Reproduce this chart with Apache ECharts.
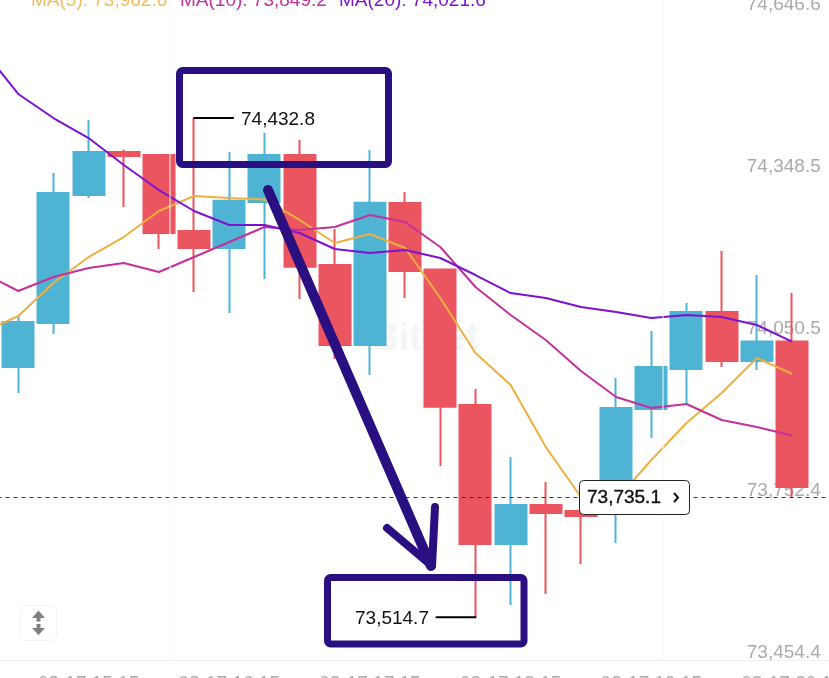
<!DOCTYPE html>
<html><head><meta charset="utf-8">
<style>html,body{margin:0;padding:0;background:#fff;overflow:hidden}#c{width:829px;height:678px}</style>
<script src="https://cdn.jsdelivr.net/npm/echarts@6/dist/echarts.min.js"></script>
</head><body><div id="c"></div>
<script>
const categories = ["08-17 14:30","08-17 14:45","08-17 15:00","08-17 15:15","08-17 15:30","08-17 15:45","08-17 16:00","08-17 16:15","08-17 16:30","08-17 16:45","08-17 17:00","08-17 17:15","08-17 17:30","08-17 17:45","08-17 18:00","08-17 18:15","08-17 18:30","08-17 18:45","08-17 19:00","08-17 19:15","08-17 19:30","08-17 19:45","08-17 20:00","08-17 20:15","08-17 20:30"];
const noCandle = ['-','-','-','-'];
// [open, close, low, high]
const candles = [noCandle,
[73975.0,74057.7,73927.2,74068.7],[74055.9,74294.9,74035.6,74331.7],[74291.2,74370.3,74285.7,74429.1],
[74370.3,74362.9,74269.2,74374.9],[74364.8,74221.4,74191.9,74366.6],[74225.0,74193.8,74112.9,74432.8],
[74193.8,74280.8,74074.3,74370.3],[74278.4,74364.8,74136.8,74405.8],[74364.8,74159.4,74100.0,74392.4],
[74162.5,74015.4,73989.7,74228.7],[74015.4,74277.1,73960.2,74374.0],[74276.5,74151.5,74101.8,74296.8],
[74154.2,73902.0,73792.9,74155.0],[73905.1,73649.5,73514.7,73934.5],[73649.5,73721.2,73537.3,73809.5],
[73721.2,73706.5,73557.6,73763.5],[73710.2,73701.0,73612.7,73721.2],[73708.0,73899.6,73651.3,73954.7],
[73897.7,73975.0,73844.4,74041.2],[73971.3,74076.1,73906.9,74092.6],[74076.1,73986.0,73975.0,74188.3],
[73986.0,74021.9,73969.4,74144.1],[74021.9,73754.3,73735.9,74111.0],noCandle];
const ma5 = [74039.3,74068.7,74129.4,74177.2,74214.0,74261.8,74289.4,74285.7,74283.0,74245.3,74203.0,74219.5,74193.8,74101.8,74000.7,73941.9,73827.9,73735.9,73730.4,73804.0,73872.0,73927.2,73991.5,73962.6,'-'];
const ma10 = [74147.8,74114.7,74140.5,74157.0,74166.2,74149.6,74177.2,74204.8,74232.4,74226.9,74232.4,74254.5,74241.6,74195.6,74122.1,74070.6,74024.6,73967.6,73919.8,73899.6,73906.9,73877.5,73864.6,73849.2,'-'];
const ma20 = [74557.9,74477.0,74432.8,74396.0,74346.4,74300.4,74261.8,74236.1,74236.1,74221.4,74191.9,74184.6,74190.1,74175.4,74144.1,74111.0,74101.8,74085.3,74076.1,74065.1,74070.6,74066.9,74052.2,74021.6,'-'];
const priceTicks = [74646.6,74348.5,74050.5,73752.4,73454.4];
const lastPrice = 73735.1;
const highPoint = {index:6, value:74432.8};
const lowPoint = {index:14, value:73514.7};
const legendTexts = ["MA(5): 73,962.6","MA(10): 73,849.2","MA(20): 74,021.6"];

const FONT = '"Liberation Sans", Arial, sans-serif';
const fmt = v => v.toLocaleString('en-US',{minimumFractionDigits:1,maximumFractionDigits:1});
const ORANGE='#edb040', MAGENTA='#c5309a', PURPLE='#7d13d0', INK='#2a0f80';
const BLUE='#4fb3d3', RED='#eb5560';

const chart = echarts.init(document.getElementById('c'),null,{renderer:'canvas'});
const lineSeries = (name,data,color)=>({name,type:'line',data,symbol:'none',smooth:false,z:5,silent:true,
  lineStyle:{color,width:2},connectNulls:false});
chart.setOption({
  animation:false,
  backgroundColor:'#ffffff',
  grid:{left:-34.5,right:-15.75,top:0,bottom:17.5,containLabel:false,outerBoundsMode:'none'},
  xAxis:{type:'category',data:categories,boundaryGap:true,
    axisLine:{show:true,lineStyle:{color:'#f1f1f1',width:1}},axisTick:{show:false},splitLine:{show:false},
    axisLabel:{color:'#aaaaaa',fontFamily:FONT,fontSize:19,margin:14,hideOverlap:false,
      interval:(i)=>i>=3&&(i-3)%4===0}},
  yAxis:{type:'value',position:'right',scale:true,min:73435.3,max:74649.8,
    axisLine:{show:false},axisTick:{show:false},splitLine:{show:false},
    axisLabel:{inside:true,margin:24,color:'#aaaaaa',fontFamily:FONT,fontSize:19,align:'right',
      customValues:priceTicks,formatter:fmt,verticalAlign:'top',lineHeight:6}},
  series:[
    {name:'K',type:'candlestick',data:candles,barWidth:31.5,z:3,silent:true,
     itemStyle:{color:BLUE,color0:RED,borderColor:BLUE,borderColor0:RED,borderWidth:2},
     markLine:{silent:true,symbol:'none',label:{show:false},z:4,animation:false,
       lineStyle:{color:'#333333',type:[4,4],width:1},data:[{yAxis:lastPrice}]}},
    lineSeries('MA5',ma5,ORANGE),
    lineSeries('MA10',ma10,MAGENTA),
    lineSeries('MA20',ma20,PURPLE)
  ]
});

const hi = chart.convertToPixel({gridIndex:0},[highPoint.index,highPoint.value]);
const lo = chart.convertToPixel({gridIndex:0},[lowPoint.index,lowPoint.value]);
const pl = chart.convertToPixel({gridIndex:0},[0,lastPrice]);
const txt=(x,y,text,fill,extra,z)=>({type:'text',x,y,z:z||30,silent:true,
  style:Object.assign({text,fill,font:'19px '+FONT,textVerticalAlign:'middle'},extra||{})});
const line=(x1,y1,x2,y2,stroke,w,z)=>({type:'line',z:z||30,silent:true,shape:{x1,y1,x2,y2},style:{stroke,lineWidth:w,lineCap:'round'}});
chart.setOption({graphic:{elements:[
  line(663,0,663,660,'#f7f7f7',1,0),
  line(170,0,170,660,'#f9f9f9',1,0),
  {type:'text',x:425,y:340,z:0,silent:true,style:{text:'Bitget',fill:'#f4f5f7',font:'bold 38px '+FONT,textAlign:'center',textVerticalAlign:'middle'}},
  txt(31,1,legendTexts[0],ORANGE,{opacity:.85}),
  txt(180,1,legendTexts[1],MAGENTA),
  txt(339,1,legendTexts[2],PURPLE),
  line(hi[0],hi[1],hi[0]+39,hi[1],'#000000',2),
  txt(241,hi[1]+2,fmt(highPoint.value),'#111111'),
  line(lo[0],lo[1],lo[0]-39,lo[1],'#000000',2),
  txt(355,lo[1]+1,fmt(lowPoint.value),'#111111'),
  {type:'rect',z:40,silent:true,shape:{x:179.5,y:70.5,width:209,height:94,r:3},style:{fill:'none',stroke:INK,lineWidth:7}},
  {type:'rect',z:40,silent:true,shape:{x:327.5,y:577.5,width:196.5,height:66.5,r:3},style:{fill:'none',stroke:INK,lineWidth:7}},
  line(268,190,431,566,INK,10,40),
  {type:'polyline',z:40,silent:true,shape:{points:[[387,528],[432,566],[435,507]]},style:{fill:'none',stroke:INK,lineWidth:8,lineCap:'round',lineJoin:'round'}},
  {type:'rect',z:50,silent:true,shape:{x:579.5,y:480.5,width:110,height:34,r:4},style:{fill:'#ffffff',stroke:'#222222',lineWidth:1}},
  txt(587,pl[1],fmt(lastPrice),'#111111',{stroke:'#111111',lineWidth:.4},52),
  {type:'polyline',z:51,silent:true,shape:{points:[[674,493],[678,497.5],[674,502]]},style:{fill:'none',stroke:'#111111',lineWidth:2}},
  {type:'rect',z:20,silent:true,shape:{x:20.5,y:605.5,width:36,height:35,r:5},style:{fill:'#ffffff',stroke:'#f3f3f3',lineWidth:1}},
  {type:'polygon',z:21,silent:true,shape:{points:[[38.5,610.5],[45,618],[40.5,618],[40.5,621.5],[36.5,621.5],[36.5,618],[32,618]]},style:{fill:'#7f7f7f'}},
  {type:'polygon',z:21,silent:true,shape:{points:[[38.5,635],[45,628],[40.5,628],[40.5,624],[36.5,624],[36.5,628],[32,628]]},style:{fill:'#7f7f7f'}}
]}});
</script></body></html>
